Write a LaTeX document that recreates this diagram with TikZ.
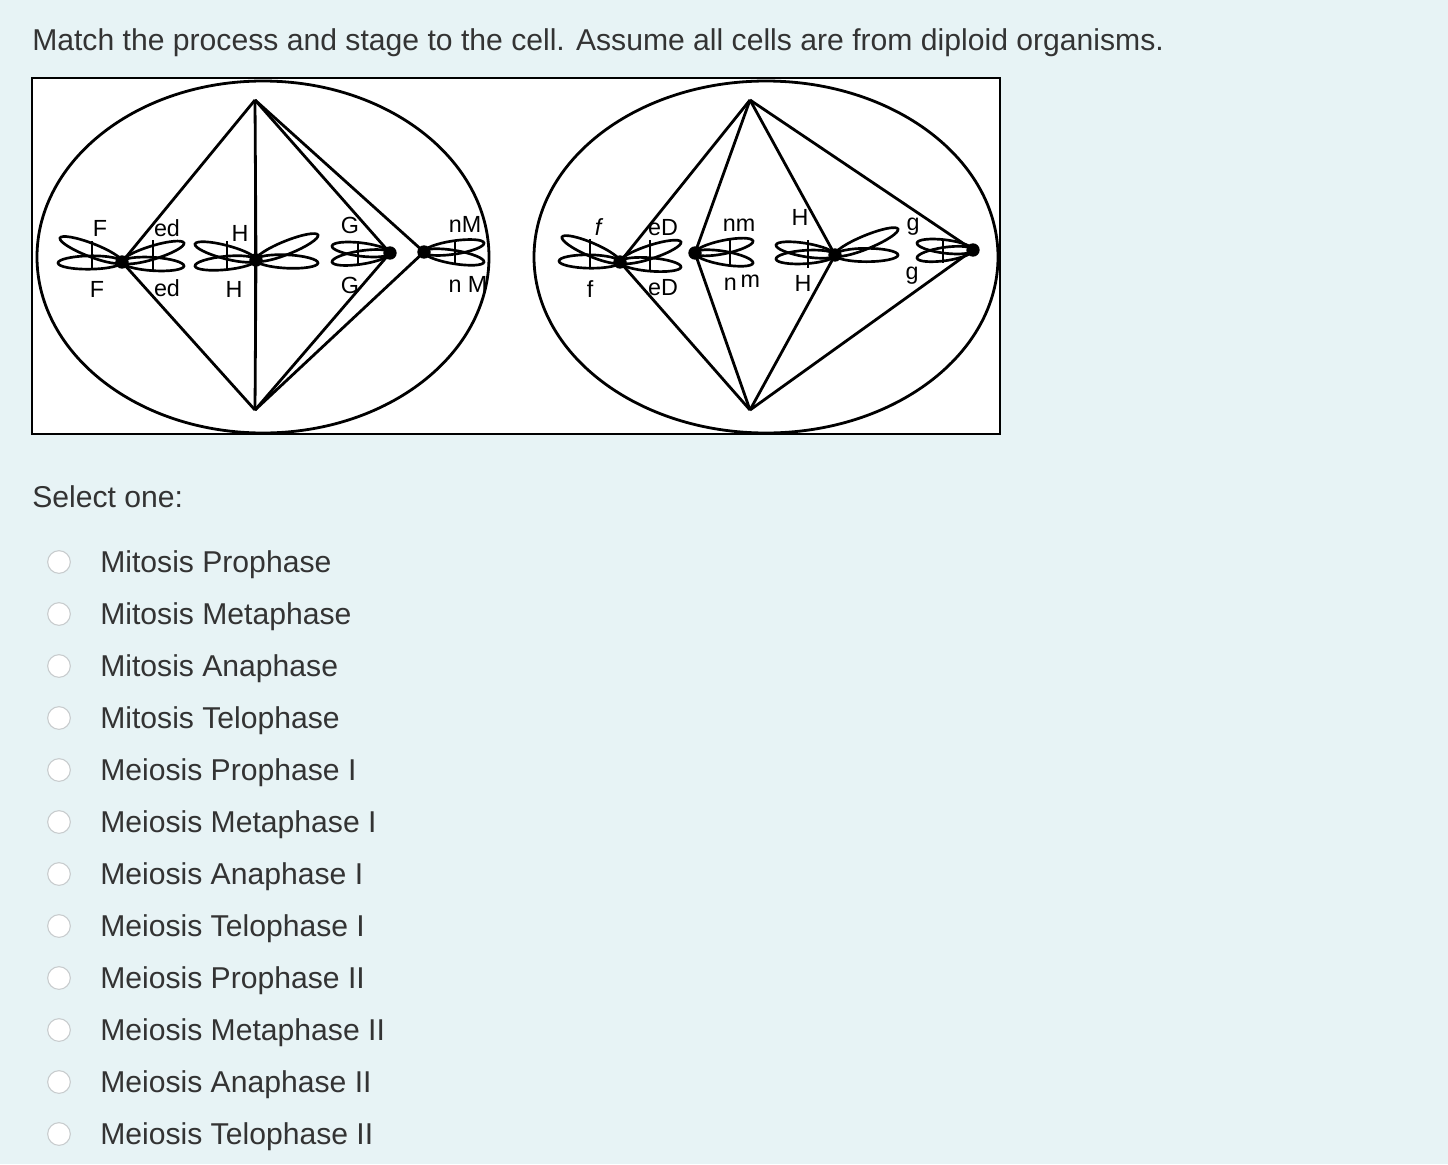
\documentclass[tikz,border=0pt]{standalone}
\usepackage{fontspec}
\setmainfont{Liberation Sans}
\usetikzlibrary{calc}
\definecolor{bg}{HTML}{E7F3F5}
\definecolor{txt}{HTML}{333333}
\definecolor{rad}{HTML}{C8CCCE}
\newcommand{\petal}[2]{%
  \draw[line width=2pt] let \p1=($(#2)-(#1)$), \n1={atan2(\y1,\x1)}, \n2={veclen(\x1,\y1)/2} in
    ($(#1)!0.5!(#2)$) ellipse[x radius=\n2, y radius=5pt, rotate=\n1];}
\newcommand{\xbar}[3]{\draw[line width=1.8pt] (#1,#2) -- (#1,#3);}
\begin{document}
\begin{tikzpicture}[x=0.75pt,y=-0.75pt,
  lab/.style={font=\fontsize{17.5}{18}\selectfont, inner sep=0pt},
  opt/.style={font=\fontsize{22.6}{23}\selectfont, text=txt, anchor=west, inner sep=0pt},
  radio/.style={circle, draw=rad, fill=white, minimum size=17pt, inner sep=0pt, line width=0.8pt},
  spin/.style={line width=2.1pt},
  dot/.style={circle, fill=black, minimum size=10pt, inner sep=0pt}]
\fill[bg] (0,0) rectangle (1448,1164);
\useasboundingbox (0,0) rectangle (1448,1164);
\node[opt, anchor=base west] (title) at (32,50) {Match the process and stage to the cell. Assume all cells are from diploid organisms.};
\draw[fill=white, line width=1.5pt] (32,78) rectangle (1000,434);
% left cell
\draw[line width=2.1pt] (263,257) ellipse[x radius=226, y radius=176];
\coordinate (LT) at (255,100); \coordinate (LB) at (255,410);
\coordinate (c1) at (122,262); \coordinate (c2) at (256,260);
\coordinate (c3) at (390,253); \coordinate (c4) at (424,252);
\foreach \c in {c1,c2,c3,c4}{\draw[spin] (LT) -- (\c) -- (LB);}
\draw[spin] (LT) -- (LB);
\coordinate (a1) at (60,238); \coordinate (a2) at (58,263);
\coordinate (a3) at (184,243); \coordinate (a4) at (184,266);
\petal{c1}{a1}\petal{c1}{a2}\petal{c1}{a3}\petal{c1}{a4}
\xbar{92}{241}{268}\xbar{153}{240}{270}
\coordinate (b1) at (195,244); \coordinate (b2) at (195,266);
\coordinate (b3) at (318,235); \coordinate (b4) at (318,263);
\petal{c2}{b1}\petal{c2}{b2}\petal{c2}{b3}\petal{c2}{b4}
\xbar{227}{241}{269}
\coordinate (d1) at (332,246); \coordinate (d2) at (332,262);
\petal{c3}{d1}\petal{c3}{d2}
\xbar{358}{242}{266}
\coordinate (e1) at (484,243); \coordinate (e2) at (484,262);
\petal{c4}{e1}\petal{c4}{e2}
\xbar{455}{241}{265}
\foreach \c in {c1,c2,c3,c4}{\node[dot] at (\c) {};}
\node[lab] at (100,228) {F}; \node[lab] at (97,289) {F};
\node[lab] at (167,228) {ed}; \node[lab] at (167,288) {ed};
\node[lab] at (240,233) {H}; \node[lab] at (234,289) {H};
\node[lab] at (350,225) {G}; \node[lab] at (350,285) {G};
\node[lab] at (465,224) {nM}; \node[lab] at (468,284) {n M};
% right cell
\draw[line width=2.1pt] (766,257) ellipse[x radius=232, y radius=176];
\coordinate (RT) at (750,100); \coordinate (RB) at (750,410);
\coordinate (r1) at (620,262); \coordinate (r2) at (695,253);
\coordinate (r3) at (835,255); \coordinate (r4) at (973,250);
\foreach \c in {r1,r2,r3,r4}{\draw[spin] (RT) -- (\c) -- (RB);}
\coordinate (f1) at (562,237); \coordinate (f2) at (559,261);
\coordinate (f3) at (681,242); \coordinate (f4) at (681,267);
\petal{r1}{f1}\petal{r1}{f2}\petal{r1}{f3}\petal{r1}{f4}
\xbar{590}{239}{268}\xbar{650}{240}{270}
\coordinate (g1) at (753,241); \coordinate (g2) at (753,263);
\petal{r2}{g1}\petal{r2}{g2}
\xbar{730}{240}{267}
\coordinate (h1) at (776,245); \coordinate (h2) at (776,259);
\coordinate (h3) at (898,229); \coordinate (h4) at (898,255);
\petal{r3}{h1}\petal{r3}{h2}\petal{r3}{h3}\petal{r3}{h4}
\xbar{808}{240}{268}
\coordinate (k1) at (917,243); \coordinate (k2) at (917,258);
\petal{r4}{k1}\petal{r4}{k2}
\xbar{943}{239}{263}
\foreach \c in {r1,r2,r3,r4}{\node[dot] at (\c) {};}
\node[lab] at (598,227) {\itshape f}; \node[lab] at (590,289) {f};
\node[lab] at (663,228) {eD}; \node[lab] at (663,288) {eD};
\node[lab] at (739,225) {nm}; \node[lab] at (742,283) {n\,\raisebox{2pt}{m}};
\node[lab] at (800,217) {H}; \node[lab] at (803,283) {H};
\node[lab] at (913,227) {g}; \node[lab] at (912,276) {g};
% options
\node[opt, anchor=base west] (sel) at (32,507) {Select one:};
\foreach [count=\i from 0] \t in {Mitosis Prophase, Mitosis Metaphase, Mitosis Anaphase, Mitosis Telophase, Meiosis Prophase I, Meiosis Metaphase I, Meiosis Anaphase I, Meiosis Telophase I, Meiosis Prophase II, Meiosis Metaphase II, Meiosis Anaphase II, Meiosis Telophase II}{
  \node[radio] (rb\i) at (59,{562+52*\i}) {};
  \node[opt, anchor=base west] (o\i) at (100,{572+52*\i}) {\t};
}
\end{tikzpicture}
\end{document}
